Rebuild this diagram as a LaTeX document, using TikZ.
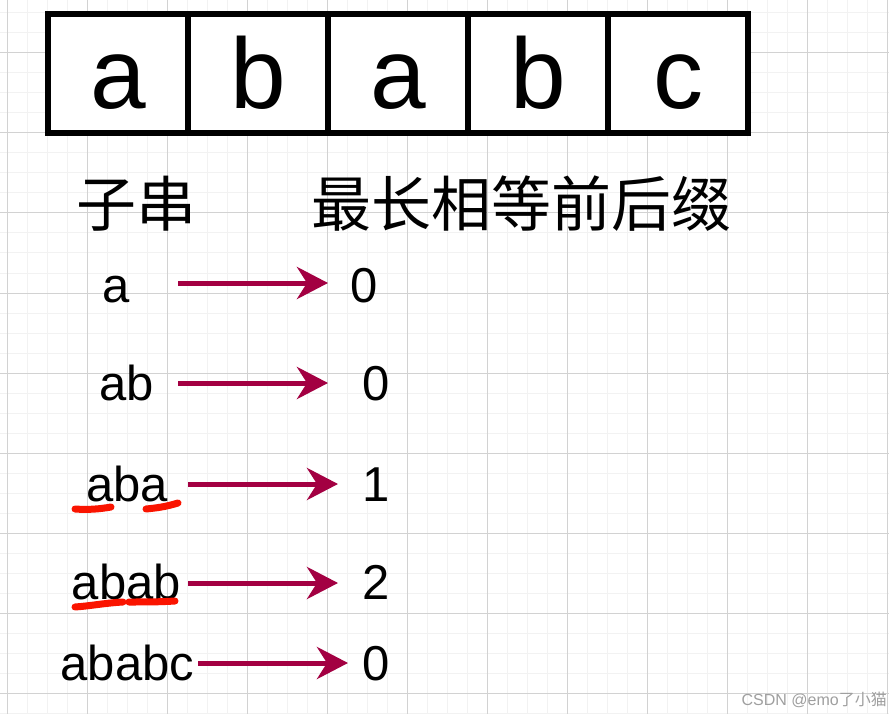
\documentclass[tikz,border=0pt]{standalone}
\usepackage{fontspec}
\setmainfont{Liberation Sans}
\newfontfamily\cjkfont{Noto Sans CJK SC}
\usetikzlibrary{arrows.meta,positioning}
\definecolor{arrowred}{RGB}{163,0,66}
\definecolor{penred}{RGB}{250,20,0}
\definecolor{gridmajor}{RGB}{210,210,210}
\definecolor{gridminor}{RGB}{242,242,242}

\begin{document}
\begin{tikzpicture}[x=1pt, y=-1pt,
    cell/.style={draw, line width=6pt, fill=white, inner sep=0pt, outer sep=0pt,
      minimum width=140pt, minimum height=118.5pt, text height=70.5pt, text depth=0pt,
      font=\fontsize{100}{100}\selectfont},
    head/.style={anchor=base west, inner sep=0pt, font=\cjkfont\fontsize{60}{60}\selectfont},
    sub/.style={anchor=base, inner sep=0pt, font=\fontsize{49}{49}\selectfont},
    arr/.style={draw=arrowred, line width=5pt, -{Stealth[length=31pt, width=32pt, inset=10pt]}},
    hilite/.style={draw=penred, line width=7pt, line cap=round},
  ]
  \useasboundingbox (0,0) rectangle (889,714);
  \fill[white] (0,0) rectangle (889,714);

  % grid paper
  \foreach \gx in {7,27,...,887} \draw[gridminor, line width=1pt] (\gx,0) -- (\gx,714);
  \foreach \gy in {13,33,...,713} \draw[gridminor, line width=1pt] (0,\gy) -- (889,\gy);
  \foreach \gx in {7,87,...,887} \draw[gridmajor, line width=1pt] (\gx,0) -- (\gx,714);
  \foreach \gy in {53,133,...,693} \draw[gridmajor, line width=1pt] (0,\gy) -- (889,\gy);

  % the string
  \node[cell] (c1) at (118,73.75) {a};
  \node[cell, right=0pt of c1] (c2) {b};
  \node[cell, right=0pt of c2] (c3) {a};
  \node[cell, right=0pt of c3] (c4) {b};
  \node[cell, right=0pt of c4] (c5) {c};

  % headings
  \node[head] (hsub) at (76,226) {子串};
  \node[head] (hlen) at (311,226) {最长相等前后缀};

  % substring -> length
  \foreach \i/\str/\num/\sx/\vx/\bl/\ax/\ay in {
      1/a/0/116/364.5/302/178/283,
      2/ab/0/127/376.5/400/178/383,
      3/aba/1/127/376/501/188/484,
      4/abab/2/126.5/376.5/599/188/583,
      5/ababc/0/127.5/376.5/680/198/663} {
    \node[sub] (s\i) at (\sx,\bl) {\str};
    \node[sub] (v\i) at (\vx,\bl) {\num};
    \coordinate (t\i) at (\ax,\ay);
    \coordinate (h\i) at (\ax+150,\ay);
    \draw[arr] (t\i) -- (h\i);
  }

  % equal prefix / suffix marks
  \draw[hilite] (75,509) .. controls (88,510) and (100,509) .. (111,507);
  \draw[hilite] (146,509) .. controls (156,508) and (165,507) .. (178,503);
  \draw[hilite] (75,607) .. controls (90,606) and (105,603) .. (123,602);
  \draw[hilite] (129,602) .. controls (145,602) and (160,602) .. (175,601);

  % watermark
  \node[anchor=base east, inner sep=0pt, text=gray!75, font=\fontsize{16}{16}\selectfont]
    (wm) at (887,705) {CSDN @emo{\cjkfont 了小猫}};
\end{tikzpicture}
\end{document}
